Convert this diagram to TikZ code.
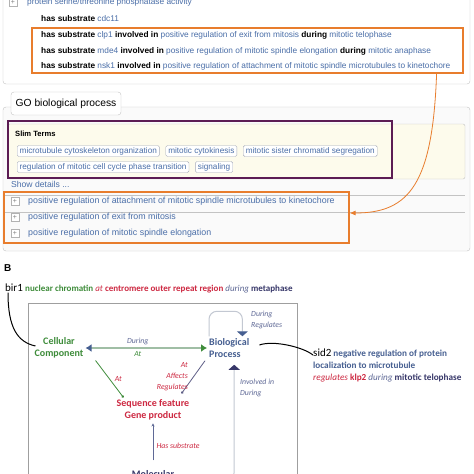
\documentclass[tikz,border=0pt]{standalone}
\usepackage{fontspec}
\setmainfont{Liberation Sans}
\newfontfamily\calibri{Carlito}
\usetikzlibrary{arrows.meta, positioning, fit, calc}

\definecolor{linkblue}{RGB}{74,110,168}
\definecolor{orangeh}{RGB}{232,125,45}
\definecolor{purpleh}{RGB}{92,28,84}
\definecolor{slimfill}{RGB}{253,251,236}
\definecolor{panelline}{RGB}{195,195,195}
\definecolor{panelfill}{RGB}{250,250,250}
\definecolor{tagline}{RGB}{165,170,185}
\definecolor{gogreen}{RGB}{62,140,58}
\definecolor{gored}{RGB}{205,40,65}
\definecolor{goblue}{RGB}{70,95,145}
\definecolor{goitalic}{RGB}{95,105,150}
\definecolor{navy}{RGB}{55,55,105}
\definecolor{loopline}{RGB}{195,200,210}
\definecolor{pairline}{RGB}{160,190,165}

\begin{document}
\begin{tikzpicture}[
  x=1pt, y=-1pt,
  node distance = 5pt and 6pt,
  every node/.style = {inner sep=0pt},
  row/.style     = {anchor=west, font=\fontsize{8.3}{9}\selectfont},
  plusbox/.style = {draw=gray!60, fill=white, minimum size=8pt,
                    font=\fontsize{7}{7}\selectfont, text=gray},
  tag/.style     = {draw=tagline, rounded corners=1.5pt, fill=white,
                    inner xsep=2.5pt, minimum height=11pt, text=linkblue,
                    font=\fontsize{8.2}{9}\selectfont},
  hlbox/.style   = {draw=orangeh, line width=1.2pt},
  harr/.style    = {draw=orangeh, line width=0.8pt, -{Latex[length=6pt, width=5pt]}},
  term/.style    = {inner sep=2pt, font=\calibri\bfseries\fontsize{10}{12}\selectfont, align=center},
  rel/.style     = {font=\calibri\itshape\fontsize{7.8}{11}\selectfont, text=goitalic},
  curl/.style    = {draw=black, line width=1pt},
  dotarr/.style  = {line width=0.8pt, -{Circle[length=2.5pt]}}
]
\useasboundingbox (0,0) rectangle (474,474);
\fill[white] (0,0) rectangle (474,474);
\clip (0,0) rectangle (474,474);

% A: molecular function panel
\draw[panelline, rounded corners=3pt, fill=white] (3,-20) rectangle (470,84);
\node[plusbox] (pl0) at (13,2.5) {+};
\node[row, text=linkblue] (mfa) at (27,2.5) {protein serine/threonine phosphatase activity};
\node[row] (sub0) at (41,19) {\textbf{has substrate} \textcolor{linkblue}{cdc11}};
\node[row] (sub1) at (41,35) {\textbf{has substrate} \textcolor{linkblue}{clp1} \textbf{involved in} \textcolor{linkblue}{positive regulation of exit from mitosis} \textbf{during} \textcolor{linkblue}{mitotic telophase}};
\node[row] (sub2) at (41,51) {\textbf{has substrate} \textcolor{linkblue}{mde4} \textbf{involved in} \textcolor{linkblue}{positive regulation of mitotic spindle elongation} \textbf{during} \textcolor{linkblue}{mitotic anaphase}};
\node[row] (sub3) at (41,66) {\textbf{has substrate} \textcolor{linkblue}{nsk1} \textbf{involved in} \textcolor{linkblue}{positive regulation of attachment of mitotic spindle microtubules to kinetochore}};
\node[hlbox, fit={(32,28) (463,73)}] (topsel) {};

% A: biological process panel
\draw[panelline, rounded corners=3pt, fill=panelfill] (3,107) rectangle (470,251);
\node[draw=panelline, rounded corners=3pt, fill=white, minimum width=110pt, minimum height=23pt,
      font=\fontsize{10.3}{11}\selectfont] (gotab) at (66,103.5) {GO biological process};
\draw[panelline, rounded corners=2pt, fill=slimfill] (8,124) rectangle (465,179);
\node[anchor=west, font=\bfseries\fontsize{7.6}{8}\selectfont] (slim) at (15,134) {Slim Terms};
\node[tag, anchor=west] (tg1) at (17,151) {microtubule cytoskeleton organization};
\node[tag, right=of tg1] (tg2) {mitotic cytokinesis};
\node[tag, right=of tg2] (tg3) {mitotic sister chromatid segregation};
\node[tag, anchor=west] (tg4) at (17,167) {regulation of mitotic cell cycle phase transition};
\node[tag, right=of tg4] (tg5) {signaling};
\node[draw=purpleh, line width=1.3pt, fit={(8,121) (392,178)}] (slimsel) {};
\node[row, text=linkblue, font=\fontsize{8.6}{9}\selectfont] (show) at (11,184) {Show details ...};
\draw[panelline] (4,195) -- (465,195);
\draw[panelline] (4,212) -- (465,212);
\node[plusbox] (pl1) at (15,201) {+};
\node[plusbox] (pl2) at (15,217) {+};
\node[plusbox] (pl3) at (15,233) {+};
\node[row, text=linkblue, font=\fontsize{8.85}{9}\selectfont] (bp1) at (28,201) {positive regulation of attachment of mitotic spindle microtubules to kinetochore};
\node[row, text=linkblue, font=\fontsize{8.85}{9}\selectfont] (bp2) at (28,217) {positive regulation of exit from mitosis};
\node[row, text=linkblue, font=\fontsize{8.85}{9}\selectfont] (bp3) at (28,233) {positive regulation of mitotic spindle elongation};
\node[hlbox, fit={(4,192) (349,243)}] (bpsel) {};

\draw[harr] ([xshift=-27pt]topsel.south east) .. controls +(-4,110) and +(60,0) .. ([yshift=4.5pt]bpsel.east);

% B: annotation model
\node[anchor=west, font=\bfseries\fontsize{10}{11}\selectfont] (lbB) at (4,268) {B};
\node[anchor=base west, font=\calibri] (bir) at (5,291) {{\fontsize{11}{12}\selectfont bir1} \bfseries\fontsize{9}{10}\selectfont\textcolor{gogreen}{nuclear chromatin} \textcolor{gored}{\mdseries\itshape at} \textcolor{gored}{centromere outer repeat region} \textcolor{goitalic}{\mdseries\itshape during} \textcolor{navy}{metaphase}};
\draw[gray!75, line width=0.8pt] (28,303) rectangle (297,530);

\node[term, text=gogreen] (cc) at (59,348) {Cellular\\Component};
\node[term, text=goblue, align=left, anchor=west] (bp) at (207,348) {Biological\\Process};
\node[term, text=gored] (sf) at (153,410) {Sequence feature\\Gene product};
\node[term, text=navy] (mf) at (153,474) {Molecular};
\coordinate (mfc) at (195,498);

\draw[draw=pairline, line width=1.3pt,
      {Latex[length=6pt, width=8pt, color=goblue]}-{Latex[length=6pt, width=8pt, color=gogreen]}]
  (cc.east) -- (bp.west)
  node[pos=0.43, above=3pt, rel] {During}
  node[pos=0.43, below=3pt, rel, text=gogreen] {At};

\draw[loopline, line width=1pt, rounded corners=8pt, -{Triangle[length=5pt, width=11pt, color=goblue]}]
  ([xshift=2pt]bp.north west) -- ++(0,-25) -| ([xshift=-9pt]bp.north east);
\node[rel, align=left, anchor=west] (dreg) at (251,320) {During\\Regulates};

\draw[dotarr, draw=gogreen] ([xshift=10pt]cc.south east) -- ([xshift=9pt]sf.north west)
  node[midway, right=5pt, rel, text=gored] {At};
\draw[dotarr, draw=navy!80] ([xshift=-2pt, yshift=-1pt]bp.south west) -- ([xshift=-10pt, yshift=4pt]sf.north east)
  node[midway, left=5pt, rel, text=gored, align=right] {At\\Affects\\Regulates};
\draw[draw=goitalic, line width=1pt, -{Stealth[length=3pt, width=3pt]}, shorten <=8pt, shorten >=1pt]
  (mf.north) -- (sf.south) node[midway, right=3pt, rel, text=gored] {Has substrate};
\draw[loopline, line width=1pt, rounded corners=28pt, -{Triangle[length=5pt, width=11pt, color=navy]}]
  (mfc) -| ([xshift=5pt, yshift=-5pt]bp.south);
\node[rel, align=left, anchor=west] (invd) at (240,388) {Involved in\\During};

% example genes
\draw[curl] ([xshift=3pt]bir.south west) .. controls +(0,35) and +(-18,-4) .. ([xshift=3pt, yshift=2pt]cc.west);
\node[anchor=north west, align=left, text=goblue, font=\calibri\bfseries\fontsize{9.2}{12}\selectfont] (sid) at (313,349)
  {{\mdseries\color{black}\fontsize{11}{12}\selectfont sid2} negative regulation of protein\\
   localization to microtubule\\
   \textcolor{gored}{\mdseries\itshape regulates} \textcolor{gored}{klp2} \textcolor{goitalic}{\mdseries\itshape during} \textcolor{navy}{mitotic telophase}};
\draw[curl] ([xshift=8pt, yshift=3pt]bp.east) .. controls +(14,-5) and +(-10,-8) .. ([yshift=-6pt]sid.north west);

\end{tikzpicture}
\end{document}
